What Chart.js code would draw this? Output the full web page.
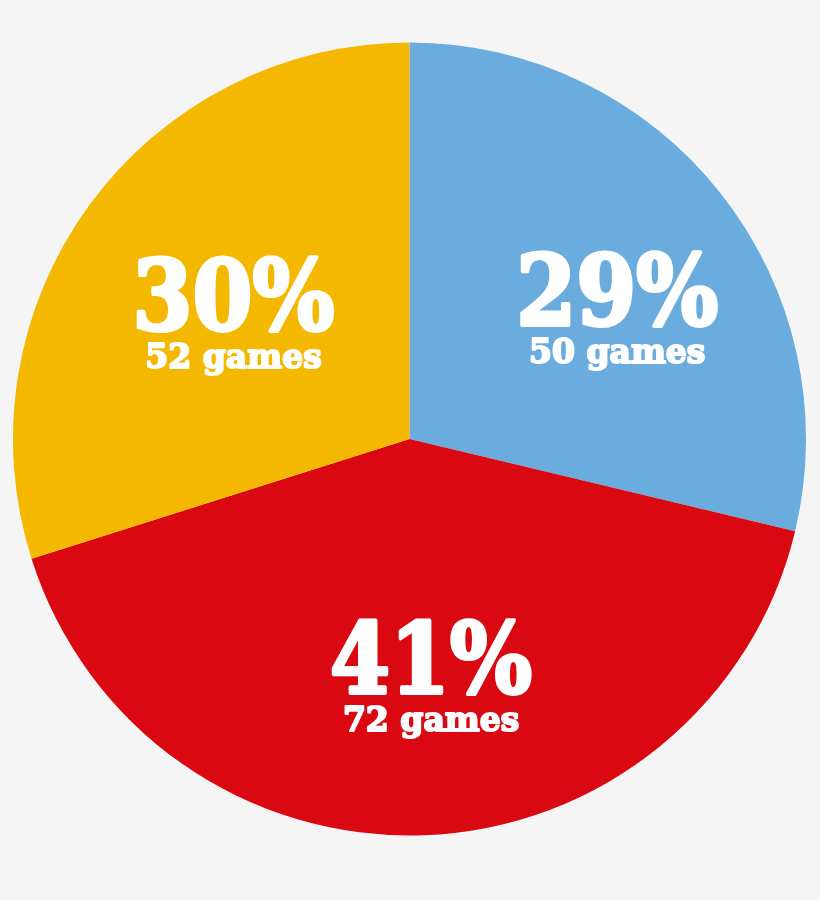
<!DOCTYPE html>
<html>
<head>
<meta charset="utf-8">
<script src="https://cdn.jsdelivr.net/npm/chart.js@4.4.0/dist/chart.umd.min.js"></script>
<style>
  html, body { margin: 0; padding: 0; background: #f5f5f5; }
  #wrap { width: 820px; height: 900px; }
</style>
</head>
<body>
<div id="wrap"><canvas id="pie" width="820" height="900"></canvas></div>
<script>
// slices, clockwise from 12 o'clock
const games = [50, 72, 52];
const percentLabels = ['29%', '41%', '30%'];
const gameLabels = ['50 games', '72 games', '52 games'];
const sliceColors = ['#6aacdd', '#d90811', '#f5b800'];

// white two-line label inside each slice, stroked a little to look heavier
const sliceLabels = {
  id: 'sliceLabels',
  afterDatasetsDraw(chart, args, opts) {
    const ctx = chart.ctx;
    chart.getDatasetMeta(0).data.forEach((arc, i) => {
      const mid = (arc.startAngle + arc.endAngle) / 2;
      const r = arc.outerRadius * opts.radiusFraction;
      const x = arc.x + Math.cos(mid) * r + opts.nudges[i][0];
      const y = arc.y + Math.sin(mid) * r + opts.nudges[i][1];

      ctx.save();
      ctx.fillStyle = '#ffffff';
      ctx.strokeStyle = '#ffffff';
      ctx.lineJoin = 'round';
      ctx.textAlign = 'center';
      ctx.textBaseline = 'alphabetic';
      ctx.translate(x, y);
      ctx.scale(0.88, 1);
      ctx.font = 'bold 98px "DejaVu Serif"';
      ctx.lineWidth = 4;
      ctx.strokeText(percentLabels[i], 0, 0);
      ctx.fillText(percentLabels[i], 0, 0);
      ctx.restore();

      ctx.save();
      ctx.fillStyle = '#ffffff';
      ctx.strokeStyle = '#ffffff';
      ctx.lineJoin = 'round';
      ctx.textAlign = 'center';
      ctx.textBaseline = 'alphabetic';
      ctx.font = 'bold 33px "DejaVu Serif"';
      ctx.lineWidth = 2;
      ctx.strokeText(gameLabels[i], x, y + opts.gap);
      ctx.fillText(gameLabels[i], x, y + opts.gap);
      ctx.restore();
    });
  }
};

new Chart(document.getElementById('pie'), {
  type: 'pie',
  data: {
    labels: percentLabels,
    datasets: [{
      data: games,
      backgroundColor: sliceColors,
      borderWidth: 0,
      hoverOffset: 0
    }]
  },
  options: {
    responsive: false,
    animation: false,
    events: [],
    layout: {
      padding: { left: 13, right: 14, top: 42, bottom: 64 }
    },
    plugins: {
      legend: { display: false },
      tooltip: { enabled: false },
      sliceLabels: {
        radiusFraction: 0.6,
        gap: 38,
        nudges: [[21, 33], [13, 16], [16, 32]]
      }
    }
  },
  plugins: [sliceLabels]
});
</script>
</body>
</html>
